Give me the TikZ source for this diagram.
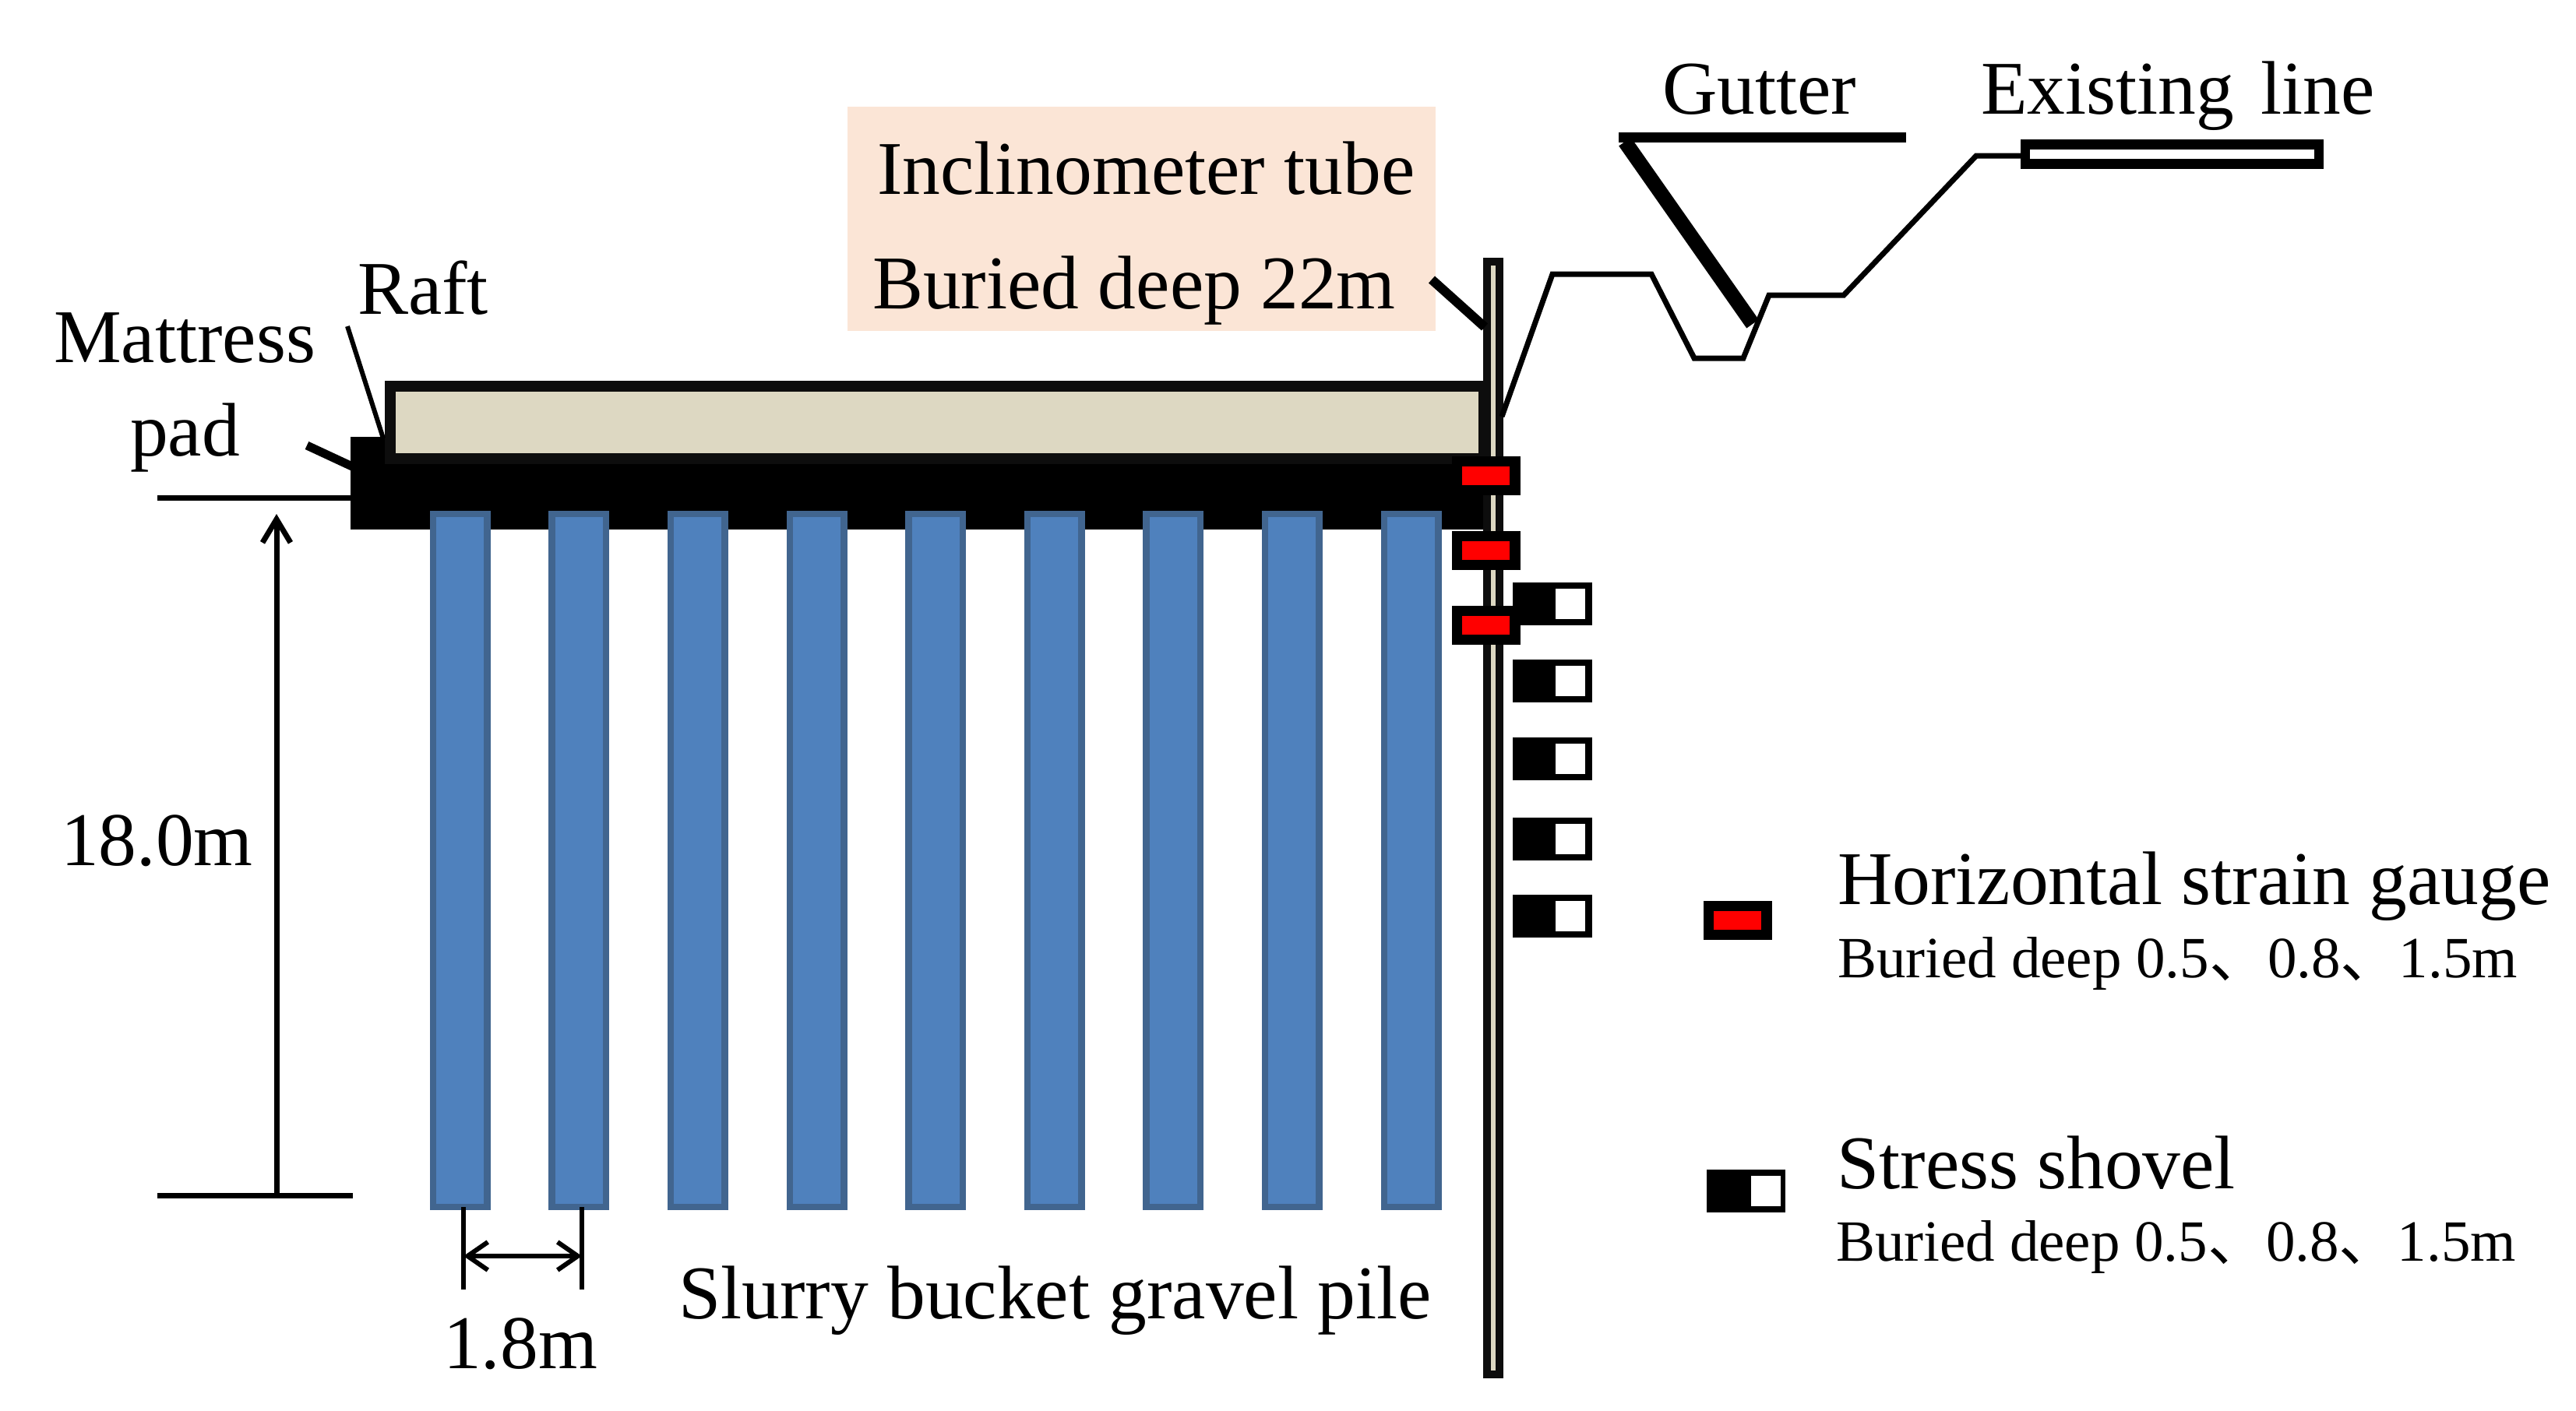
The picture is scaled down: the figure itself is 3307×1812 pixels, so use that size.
\documentclass[tikz,border=0pt]{standalone}
\usepackage{fontspec}
\setmainfont{Liberation Serif}
\newfontfamily\cjkfont{Noto Sans CJK SC}
\usetikzlibrary{arrows.meta}
\definecolor{beige}{HTML}{DDD8C2}
\definecolor{peach}{HTML}{FBE5D6}
\definecolor{pileblue}{HTML}{4F81BD}
\definecolor{pileedge}{HTML}{41658F}
\definecolor{nearblack}{HTML}{0D0D0D}
\tikzset{
  lab/.style={anchor=base west,inner sep=0pt,font=\fontsize{#1}{#1}\selectfont},
  pilebar/.style={fill=pileblue,draw=pileedge,line width=8.5pt},
  beigebar/.style={fill=beige,draw=nearblack},
  hline/.style={line width=7pt,line join=miter},
  dimarrow/.style={line width=7pt,-{Straight Barb[length=30pt,width=36pt,line width=7pt]}},
  dimboth/.style={line width=6pt,{Straight Barb[length=26pt,width=36pt,line width=6pt]}-{Straight Barb[length=26pt,width=36pt,line width=6pt]}},
}
\newcommand{\gaugeat}[1]{%
  \fill[black] (1864,#1) rectangle (1952,#1+50);
  \fill[red] (1877,#1+13) rectangle (1938,#1+37);}
\newcommand{\shovelat}[1]{%
  \fill[black] (1942,#1) rectangle (2044,#1+55);
  \fill[white] (1997,#1+8) rectangle (2035,#1+47);}
\begin{document}
\begin{tikzpicture}[x=1pt,y=-1pt]
\useasboundingbox (0,0) rectangle (3307,1812);
\fill[white] (0,0) rectangle (3307,1812);
% label box
\fill[peach] (1088,137) rectangle (1843,425);
% mattress pad
\fill[black] (450,561) rectangle (1906,680);
% raft
\draw[beigebar,line width=13.5pt] (501,496) rectangle (1905,589);
% piles
\foreach \i in {0,...,8} {
  \draw[pilebar] ({556+\i*152.6},660) rectangle ({625.5+\i*152.6},1550);
}
% shovels
\shovelat{748}\shovelat{847}\shovelat{947}\shovelat{1050}\shovelat{1149}
% inclinometer tube
\draw[beigebar,line width=10pt] (1909,336) rectangle (1925,1765);
% gauges
\gaugeat{586}\gaugeat{682}\gaugeat{778}
% ground profile
\coordinate (g0) at (1928,535);
\coordinate (g1) at (1993,352);
\coordinate (g2) at (2120,352);
\coordinate (g3) at (2175,460);
\coordinate (g4) at (2238,460);
\coordinate (g5) at (2271,379);
\coordinate (g6) at (2367,379);
\coordinate (g7) at (2537,200);
\coordinate (g8) at (2594,200);
\draw[hline] (g0)--(g1)--(g2)--(g3)--(g4)--(g5)--(g6)--(g7)--(g8);
% gutter
\coordinate (u0) at (2447,176.5);
\coordinate (u1) at (2078,176.5);
\coordinate (u2) at (2086,182);
\coordinate (u3) at (2250,416);
\draw[line width=13pt] (u0)--(u1);
\draw[line width=19pt] (u2)--(u3);
% existing line
\draw[black,fill=white,line width=12.5pt] (2600,185.5) rectangle (2977,210.5);
% leaders
\coordinate (t0) at (1838,359);
\coordinate (t1) at (1906,420);
\draw[line width=12pt] (t0)--(t1);
\coordinate (r0) at (446,419);
\coordinate (r1) at (492,563);
\draw[line width=6pt] (r0)--(r1);
\coordinate (m0) at (394,572);
\coordinate (m1) at (452,599);
\draw[line width=11pt] (m0)--(m1);
% 18.0 m dimension
\coordinate (d0) at (202,639);
\coordinate (d1) at (450,639);
\draw[hline] (d0)--(d1);
\coordinate (d2) at (202,1535);
\coordinate (d3) at (453,1535);
\draw[hline] (d2)--(d3);
\coordinate (d4) at (355,1535);
\coordinate (d5) at (355,660);
\draw[dimarrow] (d4)--(d5);
% 1.8 m dimension
\coordinate (w0) at (595,1550);
\coordinate (w1) at (595,1656);
\coordinate (w2) at (747,1550);
\coordinate (w3) at (747,1656);
\coordinate (w4) at (595,1613);
\coordinate (w5) at (747,1613);
\draw[line width=6pt] (w0)--(w1);
\draw[line width=6pt] (w2)--(w3);
\draw[dimboth] (w4)--(w5);
% legend symbols
\fill[black] (2187,1157) rectangle (2275,1207);
\fill[red] (2200,1170) rectangle (2261,1194);
\fill[black] (2191,1502) rectangle (2292,1557);
\fill[white] (2248,1510) rectangle (2286,1549);
% labels
\node[lab=97.5] (tgutter) at (2134,146) {Gutter};
\node[lab=97.5] (texist) at (2543,146) {Existing\hspace{10pt} line};
\node[lab=97.5] (tincl) at (1126,249) {Inclinometer tube};
\node[lab=97.5] (tdeep) at (1120,396) {Buried deep 22m};
\node[lab=97.5] (traft) at (459,403) {Raft};
\node[lab=97.5] (tmatt) at (69,465) {Mattress};
\node[lab=97.5] (tpad) at (167,585) {pad};
\node[lab=97.5] (tdepth) at (78,1111) {18.0m};
\node[lab=97.5] (tspace) at (569,1757) {1.8m};
\node[lab=97.5] (tpile) at (871,1693) {Slurry bucket gravel pile};
\node[lab=97.5] (thor) at (2359,1161) {Horizontal strain gauge};
\node[lab=75] (thord) at (2359,1255) {Buried deep 0.5{\cjkfont 、}0.8{\cjkfont 、}1.5m};
\node[lab=97.5] (tstress) at (2358,1526) {Stress shovel};
\node[lab=75] (tstressd) at (2357,1619) {Buried deep 0.5{\cjkfont 、}0.8{\cjkfont 、}1.5m};
\end{tikzpicture}
\end{document}
